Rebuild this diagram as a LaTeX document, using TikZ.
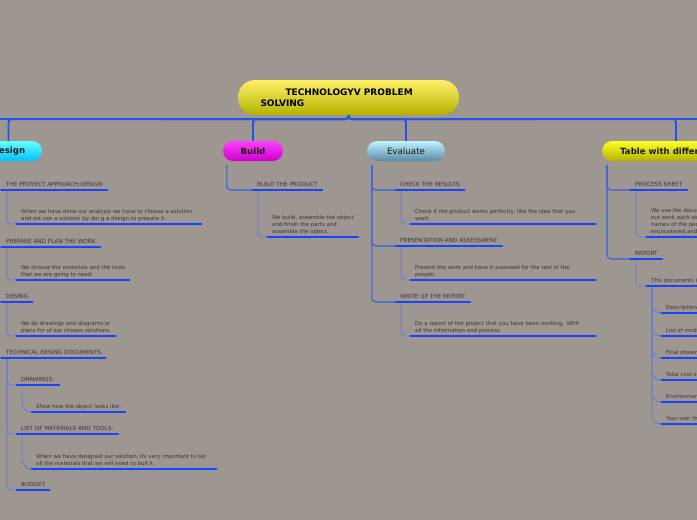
\documentclass[tikz,border=0pt]{standalone}
\usepackage{fontspec}
\setmainfont{DejaVu Sans}
\usepackage{xcolor}
\usetikzlibrary{positioning,backgrounds}

\definecolor{mapbg}{HTML}{9E9691}
\definecolor{maptext}{HTML}{383533}
\definecolor{barblue}{HTML}{2152F0}
\definecolor{lineblue}{HTML}{3560E6}
\definecolor{softblue}{HTML}{5F7FD6}
\definecolor{ulblue}{HTML}{1745FF}

\begin{document}
\begin{tikzpicture}[
    x=1pt, y=-1pt,
    font=\fontsize{5.7}{7}\selectfont,
    main/.style={rectangle, rounded corners=17pt, minimum height=35pt, top color=yellow!80!orange!60!white, bottom color=yellow!70!black, font=\bfseries\fontsize{9}{11}\selectfont, text width=176pt, align=left, inner xsep=22.5pt, inner ysep=0pt},
    branch/.style={rectangle, rounded corners=10pt, minimum height=20pt, inner ysep=0pt, font=\bfseries\fontsize{8.6}{10}\selectfont, text=black!90},
    topic/.style={anchor=south west, inner xsep=5pt, inner ysep=1.6pt, text=maptext, align=left, execute at end node={\strut},
        append after command={(\tikzlastnode.south west) edge[uline] (\tikzlastnode.south east)}},
    note/.style={topic, text width=176pt, font=\fontsize{5.4}{7}\selectfont},
    uline/.style={draw=ulblue, line width=2.2pt},
    bar/.style={draw=barblue, line width=1.8pt, rounded corners=3pt},
    link/.style={draw=lineblue, line width=1.1pt, rounded corners=4pt},
    sublink/.style={draw=softblue, line width=0.9pt, rounded corners=4pt},
    curvelink/.style={draw=softblue, line width=0.9pt, rounded corners=9pt}
]
    \useasboundingbox (0,0) rectangle (697,520);
    \clip (0,0) rectangle (697,520);
    \begin{scope}[on background layer]
        \fill[mapbg] (0,0) rectangle (697,520);
    \end{scope}

    % Central topic
    \node[main] (root) at (348.5,97.5) {\hspace*{25pt}TECHNOLOGYV PROBLEM\\SOLVING};

    % Main branches
    \node[branch, top color=cyan!60!white, bottom color=cyan!75!blue, minimum width=67pt] (design) at (8.5,151) {Design};
    \node[branch, top color=magenta!75!white, bottom color=magenta!80!black, minimum width=60pt] (build) at (253,151) {Build};
    \node[branch, top color=blue!20!cyan!25!white, bottom color=blue!35!cyan!30!gray, minimum width=78pt, font=\fontsize{8.7}{10}\selectfont] (evaluate) at (406,151) {Evaluate};
    \node[branch, top color=yellow!85!white, bottom color=yellow!70!black, anchor=west, inner xsep=18pt] (table) at (602,151) {Table with different documents};

    % Design
    \node[topic] (d1) at (1,190) {THE PROYECT APPROACH:DESIGN};
    \node[note] (d1t) at (16,224) {When we have done our analysis we have to choose a solution\\and we use a solution by doi g a design to prepare it.};
    \node[topic] (d2) at (1,247) {PREPARE AND PLAN THE WORK};
    \node[topic, font=\fontsize{5.4}{7}\selectfont] (d2t) at (16,280) {We choose the materials and the tools\\that we are going to need.};
    \node[topic] (d3) at (1,302) {DESING};
    \node[topic, font=\fontsize{5.4}{7}\selectfont] (d3t) at (16,336) {We do drawings and diagrams or\\plans for of our chosen solutions.};
    \node[topic] (d4) at (1,358) {TECHNICAL DESING DOCUMENTS};
    \node[topic] (d4a) at (16,385) {DRAWINGS:};
    \node[topic, font=\fontsize{5.4}{7}\selectfont] (d4at) at (31,412) {Show how the object looks like.};
    \node[topic] (d4b) at (16,434) {LIST OF MATERIALS AND TOOLS:};
    \node[note] (d4bt) at (31,469) {When we have designed our solution, its very important to list\\all the materials that we will need to buil it.};
    \node[topic] (d4c) at (16,490) {BUDGET};

    % Build
    \node[topic] (b1) at (252,190) {BUILD THE PRODUCT};
    \node[topic, font=\fontsize{5.4}{7}\selectfont] (b1t) at (267,237) {We build, assemble the object\\and finish the parts and\\ assemble the object.};

    % Evaluate
    \node[topic] (e1) at (395,190) {CHECK THE RESULTS};
    \node[note] (e1t) at (410,224) {Check if the product works perfectly, like the idea that you\\want.};
    \node[topic] (e2) at (395,246) {PRESENTATION AND ASSESSMENT};
    \node[note] (e2t) at (410,280) {Present the work and have it assessed for the rest of the\\people.};
    \node[topic] (e3) at (395,302) {WRITE UP THE REPORT};
    \node[note] (e3t) at (410,336) {Do a report of the project that you have been working. With\\all the information and process.};

    % Table with different documents
    \node[topic] (t1) at (630,190) {PROCESS SHEET};
    \node[note] (t1t) at (646,237) {We use the document to write down\\our work each day, with the\\names of the people and the problems\\encountered and their solutions.};
    \node[topic] (t2) at (630,259) {REPORT};
    \node[topic, font=\fontsize{5.4}{7}\selectfont] (t2t) at (646,286) {This documents include:};
    \node[topic, font=\fontsize{5.4}{7}\selectfont] (r1) at (661,313) {Description of the problem};
    \node[topic, font=\fontsize{5.4}{7}\selectfont] (r2) at (661,336) {List of modifications};
    \node[topic, font=\fontsize{5.4}{7}\selectfont] (r3) at (661,358) {Final drawings};
    \node[topic, font=\fontsize{5.4}{7}\selectfont] (r4) at (661,380) {Total cost of the project};
    \node[topic, font=\fontsize{5.4}{7}\selectfont] (r5) at (661,402) {Environmental impact};
    \node[topic, font=\fontsize{5.4}{7}\selectfont] (r6) at (661,424) {Your own thoughts};

    \coordinate (offleft) at (-10,119);
    \coordinate (offright) at (710,119);

    \begin{scope}[on background layer]
        % Routing from the centre
        \draw[bar] (root.south) -- ++(0,4) -- (offleft);
        \draw[bar] (root.south) -- ++(0,4) -- (offright);
        \draw[bar] (root.south) -- ++(0,4) -| (design.north);
        \draw[bar] (root.south) -- ++(0,4) -| (build.north);
        \draw[bar] (root.south) -- ++(0,4) -| (evaluate.north);
        \draw[bar] (root.south) -- ++(0,4) -| ([xshift=74pt]table.north west);

        % Branches to topics
        \foreach \t in {d1,d2,d3,d4}
            \draw[link] ([xshift=4pt,yshift=-4pt]design.south west) |- (\t.south west);
        \draw[link] ([xshift=4pt,yshift=-4pt]build.south west) |- (b1.south west);
        \foreach \t in {e1,e2,e3}
            \draw[link] ([xshift=5pt,yshift=-4pt]evaluate.south west) |- (\t.south west);
        \foreach \t in {t1,t2}
            \draw[link] ([xshift=5pt,yshift=-4pt]table.south west) |- (\t.south west);

        % Topics to notes
        \draw[sublink] ([xshift=6pt]d1.south west) |- (d1t.south west);
        \draw[sublink] ([xshift=6pt]d2.south west) |- (d2t.south west);
        \draw[sublink] ([xshift=6pt]d3.south west) |- (d3t.south west);
        \foreach \t in {d4a,d4b,d4c}
            \draw[sublink] ([xshift=6pt]d4.south west) |- (\t.south west);
        \draw[curvelink] ([xshift=6pt]d4a.south west) |- (d4at.south west);
        \draw[curvelink] ([xshift=6pt]d4b.south west) |- (d4bt.south west);
        \draw[sublink] ([xshift=6pt]b1.south west) |- (b1t.south west);
        \draw[sublink] ([xshift=6pt]e1.south west) |- (e1t.south west);
        \draw[sublink] ([xshift=6pt]e2.south west) |- (e2t.south west);
        \draw[sublink] ([xshift=6pt]e3.south west) |- (e3t.south west);
        \draw[sublink] ([xshift=6pt]t1.south west) |- (t1t.south west);
        \draw[sublink] ([xshift=6pt]t2.south west) |- (t2t.south west);
        \foreach \t in {r1,r2,r3,r4,r5,r6}
            \draw[curvelink] ([xshift=6pt]t2t.south west) |- (\t.south west);
    \end{scope}

\end{tikzpicture}
\end{document}
